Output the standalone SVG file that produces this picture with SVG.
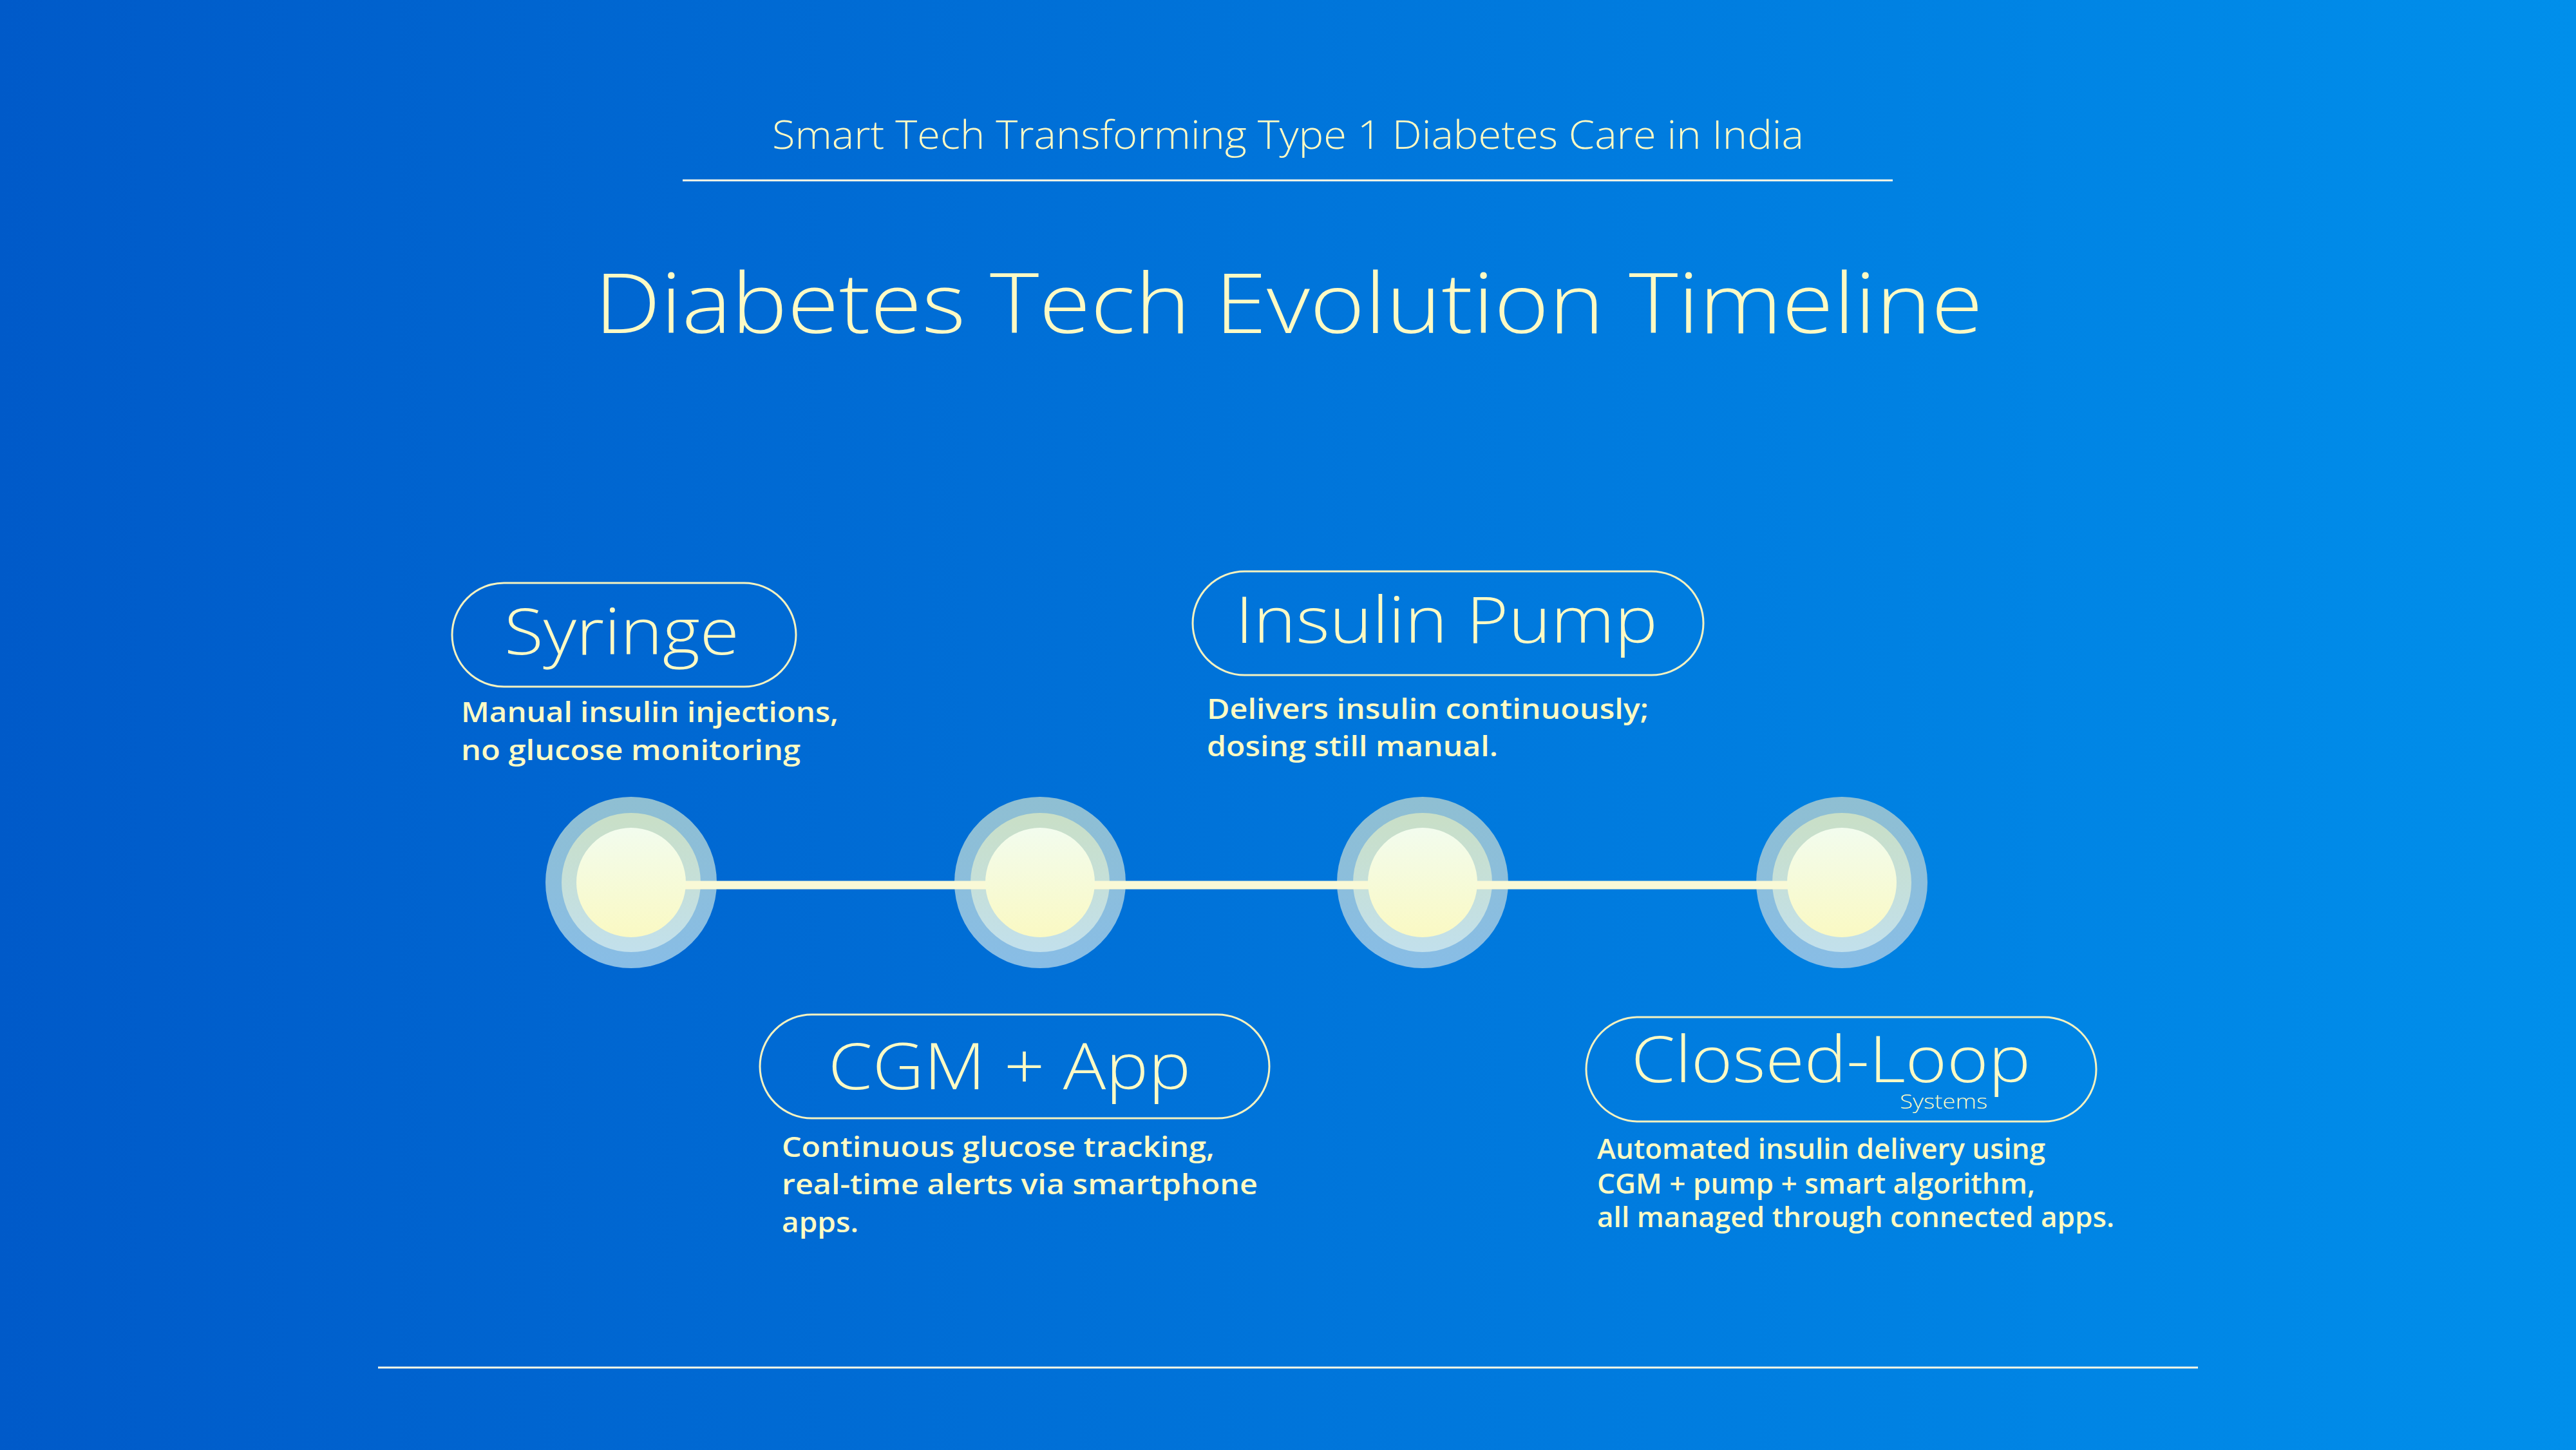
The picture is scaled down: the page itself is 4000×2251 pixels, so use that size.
<svg xmlns="http://www.w3.org/2000/svg" width="4000" height="2251" viewBox="0 0 4000 2251">
  <defs>
    <linearGradient id="bg" x1="0" y1="0" x2="1" y2="0">
      <stop offset="0" stop-color="#005AC9"/>
      <stop offset="1" stop-color="#008FEB"/>
    </linearGradient>
    <linearGradient id="gOuter" x1="0" y1="0" x2="0" y2="1">
      <stop offset="0" stop-color="#8FBFD2"/>
      <stop offset="1" stop-color="#88BDE6"/>
    </linearGradient>
    <linearGradient id="gMid" x1="0" y1="0" x2="0" y2="1">
      <stop offset="0" stop-color="#C9DFC6"/>
      <stop offset="1" stop-color="#C2E0EC"/>
    </linearGradient>
    <linearGradient id="gInner" x1="0" y1="0" x2="0" y2="1">
      <stop offset="0" stop-color="#F2FCEE"/>
      <stop offset="1" stop-color="#FAF9C3"/>
    </linearGradient>
    <style>
      .head { font-family: "Open Sans", "Noto Sans", "Liberation Sans", sans-serif; font-weight: 300; fill: #FDFAC4; }
      .pilltxt { font-family: "Open Sans", "Noto Sans", "Liberation Sans", sans-serif; font-weight: 300; fill: #FDFAC4; font-size: 100px; }
      .desc { font-family: "Open Sans", "Noto Sans", "Liberation Sans", sans-serif; font-weight: 600; fill: #FDFAC4; font-size: 44px; }
      .pill { fill: none; stroke: #F4F2C0; stroke-width: 3; }
      .rule { stroke: #F8F8E6; stroke-width: 3; }
      .outer { fill: url(#gOuter); }
      .mid { fill: url(#gMid); }
      .inner { fill: url(#gInner); }
    </style>
  </defs>

  <rect x="0" y="0" width="4000" height="2251" fill="url(#bg)"/>

  <g id="header">
    <text class="head" x="2000" y="231" font-size="60" text-anchor="middle" textLength="1602" lengthAdjust="spacingAndGlyphs">Smart Tech Transforming Type 1 Diabetes Care in India</text>
    <line class="rule" x1="1060" y1="280" x2="2939" y2="280"/>
    <text class="head" x="2001" y="517" font-size="130" text-anchor="middle" textLength="2156" lengthAdjust="spacingAndGlyphs">Diabetes Tech Evolution Timeline</text>
  </g>

  <g id="rings">
    <circle class="outer" cx="980" cy="1370" r="133"/>
    <circle class="mid" cx="980" cy="1370" r="108"/>
    <circle class="outer" cx="1615" cy="1370" r="133"/>
    <circle class="mid" cx="1615" cy="1370" r="108"/>
    <circle class="outer" cx="2209" cy="1370" r="133"/>
    <circle class="mid" cx="2209" cy="1370" r="108"/>
    <circle class="outer" cx="2860" cy="1370" r="133"/>
    <circle class="mid" cx="2860" cy="1370" r="108"/>
  </g>

  <g id="connectors">
    <line x1="980" y1="1374" x2="2860" y2="1374" stroke="#F9F9D6" stroke-width="13"/>
  </g>

  <g id="node-syringe">
    <circle class="inner" cx="980" cy="1370" r="85"/>
    <rect class="pill" x="702" y="905" width="534" height="161" rx="80.5"/>
    <text class="pilltxt" x="783" y="1016" textLength="365" lengthAdjust="spacingAndGlyphs">Syringe</text>
    <text class="desc" x="716" y="1121" textLength="586" lengthAdjust="spacingAndGlyphs">Manual insulin injections,</text>
    <text class="desc" x="716" y="1180" textLength="527" lengthAdjust="spacingAndGlyphs">no glucose monitoring</text>
  </g>

  <g id="node-cgm">
    <circle class="inner" cx="1615" cy="1370" r="85"/>
    <rect class="pill" x="1180" y="1575" width="791" height="161" rx="80.5"/>
    <text class="pilltxt" x="1286" y="1691" textLength="563" lengthAdjust="spacingAndGlyphs">CGM + App</text>
    <text class="desc" x="1214" y="1796" textLength="672" lengthAdjust="spacingAndGlyphs">Continuous glucose tracking,</text>
    <text class="desc" x="1214" y="1854" textLength="739" lengthAdjust="spacingAndGlyphs">real-time alerts via smartphone</text>
    <text class="desc" x="1214" y="1913" textLength="119" lengthAdjust="spacingAndGlyphs">apps.</text>
  </g>

  <g id="node-pump">
    <circle class="inner" cx="2209" cy="1370" r="85"/>
    <rect class="pill" x="1852" y="887" width="793" height="161" rx="80.5"/>
    <text class="pilltxt" x="1918" y="998" textLength="656" lengthAdjust="spacingAndGlyphs">Insulin Pump</text>
    <text class="desc" x="1874" y="1116" textLength="686" lengthAdjust="spacingAndGlyphs">Delivers insulin continuously;</text>
    <text class="desc" x="1874" y="1174" textLength="452" lengthAdjust="spacingAndGlyphs">dosing still manual.</text>
  </g>

  <g id="node-closedloop">
    <circle class="inner" cx="2860" cy="1370" r="85"/>
    <rect class="pill" x="2463" y="1579" width="792" height="162" rx="81"/>
    <text class="pilltxt" x="2533" y="1680" textLength="620" lengthAdjust="spacingAndGlyphs">Closed-Loop</text>
    <text class="head" x="2950" y="1721" font-size="31" textLength="136" lengthAdjust="spacingAndGlyphs">Systems</text>
    <text class="desc" x="2480" y="1799" textLength="696" lengthAdjust="spacingAndGlyphs">Automated insulin delivery using</text>
    <text class="desc" x="2480" y="1853" textLength="680" lengthAdjust="spacingAndGlyphs">CGM + pump + smart algorithm,</text>
    <text class="desc" x="2480" y="1905" textLength="803" lengthAdjust="spacingAndGlyphs">all managed through connected apps.</text>
  </g>

  <g id="footer">
    <line class="rule" x1="587" y1="2123" x2="3413" y2="2123"/>
  </g>
</svg>
